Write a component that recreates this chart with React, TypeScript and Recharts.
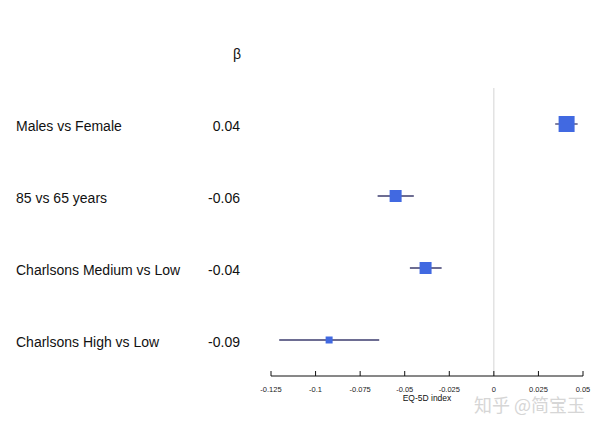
import {
  ScatterChart,
  Scatter,
  XAxis,
  YAxis,
  ZAxis,
  ErrorBar,
  ReferenceLine,
} from "recharts";

const labels = [
  "Males vs Female",
  "85 vs 65 years",
  "Charlsons Medium vs Low",
  "Charlsons High vs Low",
];
const betaText = ["0.04", "-0.06", "-0.04", "-0.09"];
const estimates = [0.0408, -0.0551, -0.0383, -0.0924];
const ciLow = [0.0344, -0.0652, -0.0471, -0.1204];
const ciHigh = [0.047, -0.0449, -0.0293, -0.0643];
const weights = [2.56, 1.44, 1.44, 0.49];
const xTicks = [-0.125, -0.1, -0.075, -0.05, -0.025, 0, 0.025, 0.05];
const rowTicks = [3.5, 2.5, 1.5, 0.5];

const FONT = '"Liberation Sans", Arial, sans-serif';

const data = labels.map((name, i) => ({
  name,
  x: estimates[i],
  y: rowTicks[i],
  weight: weights[i],
  ci: [estimates[i] - ciLow[i], ciHigh[i] - estimates[i]],
}));

function RowTick({ y, payload }: any) {
  const i = rowTicks.indexOf(payload.value);
  if (i < 0) return null;
  return (
    <g fontFamily={FONT} fontSize={14} fill="#111">
      <text x={16} y={y} dy={7} textAnchor="start">
        {labels[i]}
      </text>
      <text x={240} y={y} dy={7} textAnchor="end">
        {betaText[i]}
      </text>
    </g>
  );
}

function XTick({ x, y, payload }: any) {
  return (
    <g>
      <line x1={x} x2={x} y1={y - 5} y2={y} stroke="#111" strokeWidth={1} />
      <text
        x={x}
        y={y}
        dy={16}
        textAnchor="middle"
        fontFamily={FONT}
        fontSize={7.5}
        fill="#222"
      >
        {String(payload.value)}
      </text>
    </g>
  );
}

export default function App() {
  return (
    <div style={{ position: "absolute", left: 0, top: 0, width: 600, height: 429, background: "#fff" }}>
      <ScatterChart
        width={600}
        height={429}
        margin={{ top: 88, right: 17, left: 0, bottom: 0 }}
      >
        <XAxis
          type="number"
          dataKey="x"
          domain={[-0.125, 0.05]}
          ticks={xTicks}
          tick={<XTick />}
          tickLine={false}
          tickSize={0}
          tickMargin={0}
          axisLine={{ stroke: "#111", strokeWidth: 1 }}
          height={53}
          allowDataOverflow
          label={{
            value: "EQ-5D index",
            position: "insideTop",
            offset: 19,
            fontSize: 8.5,
            fontFamily: FONT,
            fill: "#111",
          }}
        />
        <YAxis
          type="number"
          dataKey="y"
          domain={[0, 4]}
          ticks={rowTicks}
          tick={<RowTick />}
          tickLine={false}
          axisLine={false}
          width={271}
          label={{
            content: () => (
              <text x={237} y={59} textAnchor="middle" fontFamily={FONT} fontSize={14} fill="#111">
                β
              </text>
            ),
          }}
        />
        <ZAxis type="number" dataKey="weight" domain={[0, 3]} range={[0, 300]} />
        <ReferenceLine x={0} stroke="#d4d4d4" strokeWidth={1} ifOverflow="extendDomain" />
        <Scatter data={data} shape="square" fill="#4169e1" isAnimationActive={false}>
          <ErrorBar
            dataKey="ci"
            direction="x"
            width={0}
            stroke="#3c3c6e"
            strokeWidth={1.3}
          />
        </Scatter>
      </ScatterChart>
      <div
        style={{
          position: "absolute",
          left: 474,
          top: 391,
          fontFamily: '"Noto Sans CJK SC", sans-serif',
          fontSize: 18,
          color: "#d6d6d6",
          whiteSpace: "nowrap",
        }}
      >
        知乎 @简宝玉
      </div>
    </div>
  );
}
